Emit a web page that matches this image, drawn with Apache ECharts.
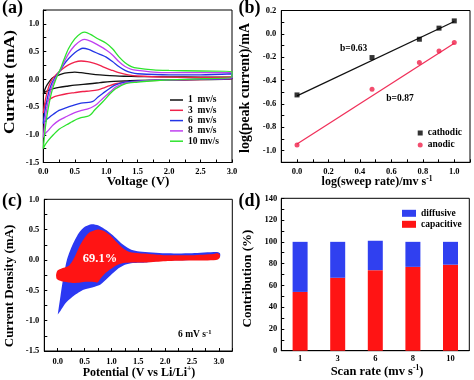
<!DOCTYPE html>
<html><head><meta charset="utf-8">
<script src="https://cdn.jsdelivr.net/npm/echarts@6/dist/echarts.min.js"></script>
<style>html,body{margin:0;padding:0;background:#fff}#c{width:474px;height:380px}</style>
</head><body><div id="c"></div>
<script>
// ---------- Panel (a): CV curves, [voltage V, current mA] ----------
const cvNames = ['1  mv/s', '3  mv/s', '6  mv/s', '8  mv/s', '10 mv/s'];
const cv1 = [[0,-0.27],[0.02,-0.2],[0.05,-0.12],[0.09,-0.05],[0.14,0.02],[0.21,0.06],[0.3,0.1],[0.4,0.12],[0.5,0.13],[0.6,0.12],[0.74,0.1],[0.9,0.08],[1.06,0.065],[1.3,0.055],[1.5,0.05],[2.0,0.045],[2.5,0.04],[3.0,0.04],[3.0,0.005],[2.5,-0.005],[2.0,-0.01],[1.5,-0.02],[1.3,-0.03],[1.06,-0.04],[0.9,-0.06],[0.74,-0.08],[0.5,-0.105],[0.37,-0.125],[0.25,-0.145],[0.16,-0.17],[0.08,-0.2],[0.03,-0.23],[0,-0.27]];
const cv3 = [[0,-0.61],[0.02,-0.45],[0.05,-0.28],[0.09,-0.12],[0.14,0.0],[0.2,0.08],[0.3,0.18],[0.4,0.26],[0.5,0.31],[0.6,0.33],[0.7,0.32],[0.8,0.29],[0.9,0.25],[1.0,0.2],[1.1,0.16],[1.2,0.12],[1.35,0.08],[1.5,0.06],[2.0,0.04],[2.5,0.035],[3.0,0.04],[3.0,0.01],[2.5,-0.005],[2.0,-0.015],[1.7,-0.025],[1.5,-0.035],[1.3,-0.05],[1.15,-0.08],[1.04,-0.12],[0.95,-0.16],[0.87,-0.19],[0.75,-0.21],[0.63,-0.22],[0.5,-0.24],[0.37,-0.26],[0.25,-0.29],[0.16,-0.32],[0.08,-0.38],[0.03,-0.46],[0,-0.61]];
const cv6 = [[0,-0.8],[0.02,-0.62],[0.05,-0.42],[0.09,-0.22],[0.14,-0.06],[0.2,0.05],[0.27,0.16],[0.33,0.27],[0.4,0.37],[0.5,0.48],[0.58,0.54],[0.63,0.56],[0.72,0.54],[0.8,0.5],[0.9,0.45],[1.0,0.4],[1.1,0.32],[1.2,0.23],[1.3,0.16],[1.4,0.12],[1.5,0.1],[2.0,0.08],[2.5,0.08],[3.0,0.1],[3.0,0.02],[2.5,0.0],[2.0,-0.01],[1.7,-0.02],[1.5,-0.03],[1.3,-0.05],[1.15,-0.1],[1.06,-0.16],[0.95,-0.25],[0.87,-0.32],[0.8,-0.39],[0.75,-0.41],[0.6,-0.43],[0.45,-0.48],[0.37,-0.51],[0.25,-0.56],[0.16,-0.63],[0.08,-0.7],[0.03,-0.75],[0,-0.8]];
const cv8 = [[0,-1.05],[0.02,-0.82],[0.05,-0.57],[0.09,-0.32],[0.14,-0.12],[0.2,0.03],[0.27,0.17],[0.33,0.31],[0.4,0.46],[0.5,0.61],[0.6,0.7],[0.66,0.72],[0.75,0.69],[0.85,0.63],[1.0,0.53],[1.1,0.44],[1.2,0.32],[1.3,0.23],[1.4,0.18],[1.5,0.16],[1.75,0.13],[2.0,0.12],[2.5,0.12],[3.0,0.12],[3.0,0.03],[2.5,0.01],[2.0,-0.01],[1.7,-0.02],[1.5,-0.04],[1.3,-0.07],[1.15,-0.14],[1.06,-0.23],[0.95,-0.34],[0.85,-0.45],[0.78,-0.5],[0.72,-0.53],[0.61,-0.56],[0.5,-0.6],[0.37,-0.67],[0.25,-0.74],[0.16,-0.82],[0.08,-0.92],[0.03,-0.98],[0,-1.05]];
const cv10 = [[0,-1.25],[0.02,-1.0],[0.05,-0.72],[0.09,-0.45],[0.14,-0.2],[0.2,0.0],[0.27,0.18],[0.33,0.36],[0.4,0.55],[0.5,0.73],[0.6,0.83],[0.66,0.85],[0.75,0.81],[0.85,0.74],[1.0,0.65],[1.1,0.55],[1.2,0.41],[1.3,0.3],[1.4,0.23],[1.5,0.2],[1.75,0.17],[2.0,0.16],[2.5,0.15],[3.0,0.14],[3.0,0.04],[2.5,0.01],[2.0,-0.01],[1.7,-0.03],[1.5,-0.05],[1.3,-0.08],[1.15,-0.17],[1.06,-0.26],[0.95,-0.4],[0.82,-0.55],[0.75,-0.64],[0.7,-0.67],[0.6,-0.69],[0.53,-0.72],[0.45,-0.77],[0.37,-0.82],[0.25,-0.9],[0.16,-1.0],[0.08,-1.1],[0.03,-1.18],[0,-1.25]];

// ---------- Panel (b): log(peak current) vs log(sweep rate) ----------
const logRate = [0, 0.477, 0.778, 0.903, 1.0];
const cathodicPeak = [-0.523, -0.203, -0.046, 0.049, 0.111];
const anodicPeak = [-0.951, -0.474, -0.246, -0.146, -0.074];
const cathodicFit = [[0, -0.531], [1.0, 0.106]];
const anodicFit = [[0, -0.943], [1.0, -0.08]];

// ---------- Panel (c): total vs capacitive CV at 6 mV/s ----------
const totalLoop = [[0,-0.9],[0.02,-0.78],[0.05,-0.6],[0.08,-0.42],[0.12,-0.22],[0.17,0.0],[0.26,0.22],[0.39,0.44],[0.51,0.55],[0.63,0.59],[0.76,0.57],[0.91,0.49],[1.06,0.38],[1.22,0.25],[1.37,0.17],[1.52,0.14],[2.0,0.11],[2.5,0.11],[2.95,0.13],[3.02,0.11],[3.02,0.05],[2.95,0.03],[2.5,0.0],[2.0,-0.01],[1.65,-0.04],[1.4,-0.05],[1.25,-0.08],[1.1,-0.16],[0.94,-0.29],[0.79,-0.41],[0.69,-0.44],[0.48,-0.49],[0.3,-0.59],[0.17,-0.69],[0.1,-0.77],[0.05,-0.84],[0,-0.9]];
const capLoop = [[-0.03,-0.24],[-0.01,-0.18],[0.05,-0.15],[0.11,-0.13],[0.2,-0.1],[0.27,-0.02],[0.33,0.08],[0.42,0.25],[0.51,0.38],[0.6,0.46],[0.73,0.5],[0.85,0.48],[0.97,0.41],[1.09,0.3],[1.22,0.19],[1.34,0.13],[1.52,0.11],[1.71,0.1],[2.0,0.08],[2.5,0.08],[2.9,0.1],[2.98,0.11],[3.02,0.08],[3.01,0.03],[2.95,0.0],[2.5,-0.01],[2.0,-0.02],[1.65,-0.04],[1.4,-0.04],[1.22,-0.05],[1.09,-0.09],[0.91,-0.2],[0.8,-0.3],[0.74,-0.37],[0.65,-0.36],[0.54,-0.36],[0.42,-0.37],[0.3,-0.38],[0.2,-0.37],[0.11,-0.36],[0.03,-0.34],[-0.02,-0.31],[-0.03,-0.27]];
const capPercentLabel = '69.1%';

// ---------- Panel (d): contribution ----------
const scanRates = ['1', '3', '6', '8', '10'];
const capacitive = [54, 67, 74, 77, 79];
const diffusive = [46, 33, 27, 23, 21];

const FONT = '"Liberation Serif", "Times New Roman", serif';
const cvColors = ['#111111', '#f0224b', '#2335e6', '#c040f0', '#2ee32e'];

function valAxis(gi, min, max, interval, labelStep, decimals, margin) {
  return {
    type: 'value', gridIndex: gi, min: min, max: max, interval: interval,
    axisLine: {show: true, onZero: false, lineStyle: {color: '#000', width: 1}},
    axisTick: {show: true, inside: true, length: 3, lineStyle: {color: '#000', width: 1}},
    splitLine: {show: false},
    axisLabel: {
      color: '#000', fontFamily: FONT, fontWeight: 'bold', fontSize: 8.5, margin: margin,
      showMinLabel: true, showMaxLabel: true,
      formatter: function (v) {
        if (Math.abs(v) < 1e-9) v = 0;
        const r = v / labelStep;
        return Math.abs(r - Math.round(r)) < 1e-6 ? v.toFixed(decimals) : '';
      }
    }
  };
}

function title(text, x, y, size, rot, sx, rich) {
  const st = {text: text, x: 0, y: 0, fill: '#000', fontFamily: FONT, fontWeight: 'bold', fontSize: size, align: 'center', verticalAlign: 'middle'};
  if (rich) st.rich = rich;
  return {type: 'text', x: x, y: y, rotation: rot || 0, scaleX: sx || 1, style: st, z: 100};
}
function supRich(main, sup) {
  return {
    m: {fontFamily: FONT, fontWeight: 'bold', fontSize: main, lineHeight: main + 2, fill: '#000'},
    s: {fontFamily: FONT, fontWeight: 'bold', fontSize: sup, lineHeight: main + 2, verticalAlign: 'top', fill: '#000'}
  };
}

const gridBox = {show: true, borderColor: '#000', borderWidth: 1, backgroundColor: 'transparent'};

const cvSets = [cv1, cv3, cv6, cv8, cv10];
const series = [];
cvSets.forEach(function (d, i) {
  series.push({
    name: cvNames[i], type: 'line', xAxisIndex: 0, yAxisIndex: 0, data: d,
    symbol: 'none', smooth: 0.3, color: cvColors[i],
    lineStyle: {width: 1.3, color: cvColors[i]}, z: 2 + i
  });
});
series.push({name: 'cathodic fit', type: 'line', xAxisIndex: 1, yAxisIndex: 1, data: cathodicFit, symbol: 'none', lineStyle: {color: '#111', width: 1.3}, color: '#111'});
series.push({name: 'anodic fit', type: 'line', xAxisIndex: 1, yAxisIndex: 1, data: anodicFit, symbol: 'none', lineStyle: {color: '#f0305a', width: 1.3}, color: '#f0305a'});
series.push({name: 'cathodic', type: 'scatter', xAxisIndex: 1, yAxisIndex: 1, symbol: 'rect', symbolSize: 5, color: '#000',
  data: logRate.map(function (x, i) { return [x, cathodicPeak[i]]; }), z: 5});
series.push({name: 'anodic', type: 'scatter', xAxisIndex: 1, yAxisIndex: 1, symbol: 'circle', symbolSize: 5, color: '#f0204a',
  data: logRate.map(function (x, i) { return [x, anodicPeak[i]]; }), z: 5});

function loopSeries(name, loop, fill, z) {
  return {
    name: name, type: 'custom', xAxisIndex: 2, yAxisIndex: 2, data: [loop[0]], z: z,
    encode: {x: 0, y: 1},
    renderItem: function (params, api) {
      const pts = loop.map(function (p) { return api.coord(p); });
      return {type: 'polygon', shape: {points: pts, smooth: 0.25}, style: {fill: fill, stroke: null}};
    }
  };
}
series.push(loopSeries('total', totalLoop, '#2b38f2', 2));
series.push(loopSeries('capacitive loop', capLoop, '#ff1414', 3));

series.push({name: 'capacitive', type: 'bar', xAxisIndex: 3, yAxisIndex: 3, stack: 'c', data: capacitive, barWidth: 15, color: '#ff1414'});
series.push({name: 'diffusive', type: 'bar', xAxisIndex: 3, yAxisIndex: 3, stack: 'c', data: diffusive, barWidth: 15, color: '#3040f0'});

const legendText = {color: '#000', fontFamily: FONT, fontWeight: 'bold', fontSize: 9.5};

const option = {
  animation: false,
  backgroundColor: '#fff',
  grid: [
    Object.assign({left: 43.3, top: 10, width: 188.7, height: 152.5}, gridBox),
    Object.assign({left: 281.3, top: 10.5, width: 188.7, height: 151.8}, gridBox),
    Object.assign({left: 44.3, top: 199.3, width: 188, height: 151.7}, gridBox),
    Object.assign({left: 281.3, top: 198.3, width: 188, height: 152.4}, gridBox)
  ],
  xAxis: [
    valAxis(0, 0, 3, 0.25, 0.5, 1, 5),
    valAxis(1, -0.1, 1.1, 0.1, 0.2, 1, 5),
    valAxis(2, -0.25, 3.25, 0.25, 0.5, 1, 6),
    {
      type: 'category', gridIndex: 3, data: scanRates,
      axisLine: {show: true, lineStyle: {color: '#000', width: 1}},
      axisTick: {show: true, inside: true, alignWithLabel: true, length: 3, lineStyle: {color: '#000'}},
      axisLabel: {color: '#000', fontFamily: FONT, fontWeight: 'bold', fontSize: 8.5, margin: 4}
    }
  ],
  yAxis: [
    valAxis(0, -1.5, 1.25, 0.25, 0.5, 1, 4),
    valAxis(1, -1.1, 0.2, 0.1, 0.2, 1, 5),
    valAxis(2, -1.5, 1.0, 0.25, 0.5, 1, 5),
    valAxis(3, 0, 140, 10, 20, 0, 4)
  ],
  legend: [
    {data: cvNames, orient: 'vertical', left: 170, top: 95, padding: 0, itemWidth: 13, itemHeight: 1.5, itemGap: 0.3,
      icon: 'rect', textStyle: Object.assign({lineHeight: 9}, legendText), selectedMode: false},
    {data: ['cathodic', 'anodic'], orient: 'vertical', left: 417.7, top: 128, padding: 0, itemWidth: 5, itemHeight: 5, itemGap: 2,
      textStyle: Object.assign({lineHeight: 10}, legendText), selectedMode: false},
    {data: ['diffusive', 'capacitive'], orient: 'vertical', left: 402, top: 208.3, padding: 0, itemWidth: 14, itemHeight: 7, itemGap: 1,
      icon: 'rect', textStyle: Object.assign({lineHeight: 10}, legendText), selectedMode: false}
  ],
  graphic: [
    title('(a)', 12.5, 8.5, 18),
    title('(b)', 249.5, 8.5, 18),
    title('(c)', 12, 201.5, 18),
    title('(d)', 249.5, 201.5, 18),
    title('Current (mA)', 10.5, 82, 14, Math.PI / 2, 1.25),
    title('Voltage (V)', 138, 181.5, 13),
    title('log(peak current)/mA', 245.5, 88, 14, Math.PI / 2),
    title('{m|log(sweep rate)/mv s}{s|-1}', 377, 182, 12, 0, 1, supRich(12, 7.5)),
    title('Current Density (mA)', 10, 286, 13, Math.PI / 2),
    title('{m|Potential (V vs Li/Li}{s|+}{m|)}', 139, 372.5, 12, 0, 1, supRich(12, 7.5)),
    title('Contribution (%)', 248, 278.5, 13, Math.PI / 2),
    title('{m|Scan rate (mv s}{s|-1}{m|)}', 377, 371.5, 12.5, 0, 1, supRich(12.5, 7.5)),
    title('b=0.63', 353.7, 48.7, 9.5),
    title('b=0.87', 400, 98.3, 9.5),
    {type: 'text', x: 100, y: 258.5, z: 100, style: {text: capPercentLabel, x: 0, y: 0, fill: '#fff', fontFamily: FONT, fontWeight: 'bold', fontSize: 12.5, align: 'center', verticalAlign: 'middle'}},
    title('{m|6 mV s}{s|-1}', 194.7, 335, 9.5, 0, 1, supRich(9.5, 6.5))
  ],
  series: series
};

const chart = echarts.init(document.getElementById('c'), null, {renderer: 'canvas'});
chart.setOption(option);
</script></body></html>
